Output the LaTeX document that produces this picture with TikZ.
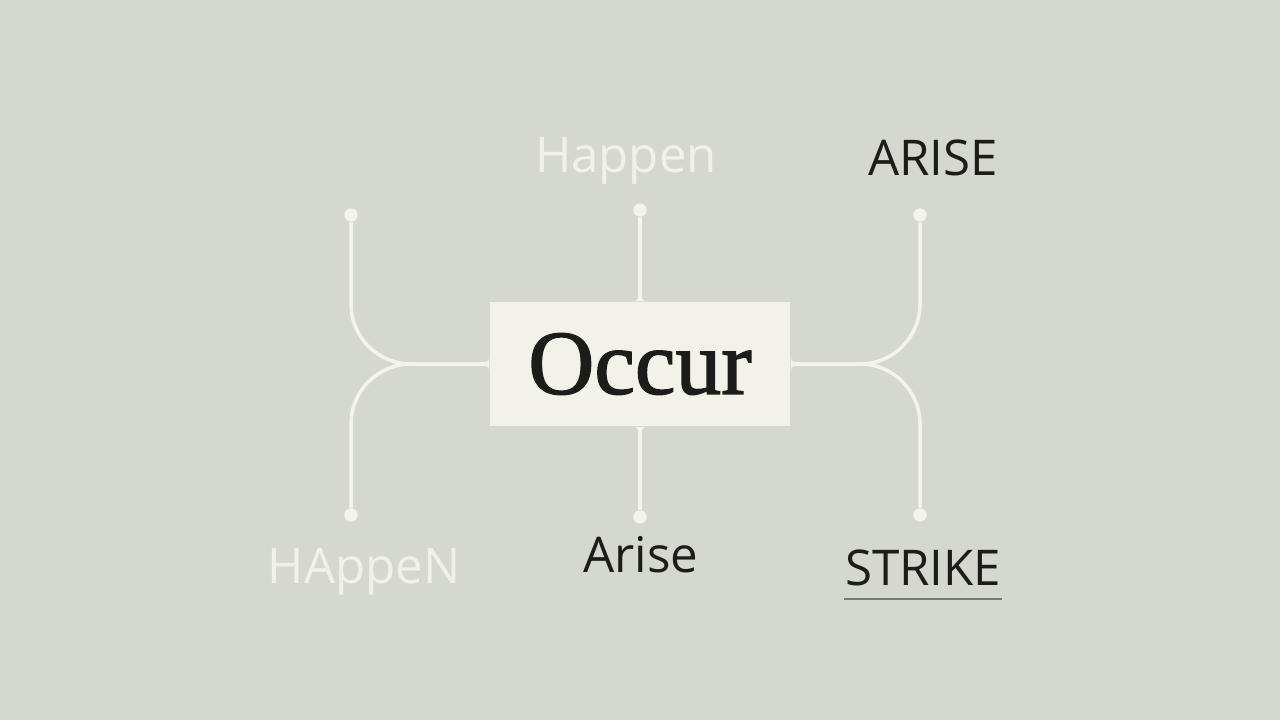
\documentclass[tikz,border=0pt]{standalone}
\usepackage{fontspec}
\setmainfont{Liberation Serif}
\setsansfont{Open Sans}
\definecolor{bg}{RGB}{213,216,206}
\definecolor{wirecol}{RGB}{244,244,236}
\definecolor{boxfill}{RGB}{243,242,232}
\definecolor{ink}{RGB}{28,28,26}
\definecolor{pale}{RGB}{241,241,231}
\definecolor{rulecol}{RGB}{120,122,116}
\begin{document}
\begin{tikzpicture}[x=0.01cm,y=-0.01cm,
  wire/.style={draw=wirecol,line width=1pt,rounded corners=0.6cm},
  dot/.style={circle,fill=wirecol,inner sep=0pt,minimum size=3.8pt},
  word/.style={font=\sffamily\fontsize{14}{16}\selectfont,inner sep=0pt,anchor=base}]
\fill[bg] (0,0) rectangle (1280,720);
% centre word
\node (occur) [fill=boxfill,minimum width=3cm,minimum height=1.24cm,
  font=\fontsize{26}{28}\selectfont,text=ink] at (640,364) {\addfontfeature{FakeBold=1.6}Occur};
% end points
\node[dot] (tl) at (351,215) {};
\node[dot] (tc) at (640,210) {};
\node[dot] (tr) at (920,215) {};
\node[dot] (bl) at (351,515) {};
\node[dot] (bc) at (640,517) {};
\node[dot] (br) at (920,515) {};
% wires
\draw[wire] (occur.west) -| (tl);
\draw[wire] (occur.west) -| (bl);
\draw[wire] (occur.east) -| (tr);
\draw[wire] (occur.east) -| (br);
\draw[wire] (occur.north) -- (tc);
\draw[wire] (occur.south) -- (bc);
% small flares where the wires meet the box
\foreach \a/\r in {north/0,south/180,west/90,east/-90}
  \fill[wirecol,shift={(occur.\a)},rotate=\r] (-3pt,0) .. controls (-0.5pt,0) .. (-0.5pt,3pt)
    -- (0.5pt,3pt) .. controls (0.5pt,0) .. (3pt,0) -- cycle;
% words
\node[word,text=pale] (happentop) at (626,172) {Happen};
\node[word,text=ink] (arisetop) at (933,175) {ARISE};
\node[word,text=pale] (happenbot) at (364,583) {HAppeN};
\node[word,text=ink] (arisebot) at (641,572) {Arise};
\node[word,text=ink] (strike) at (923,585) {STRIKE};
\draw[rulecol,line width=0.5pt] ([yshift=-0.13cm]strike.south west) -- ([yshift=-0.13cm]strike.south east);
\end{tikzpicture}
\end{document}
